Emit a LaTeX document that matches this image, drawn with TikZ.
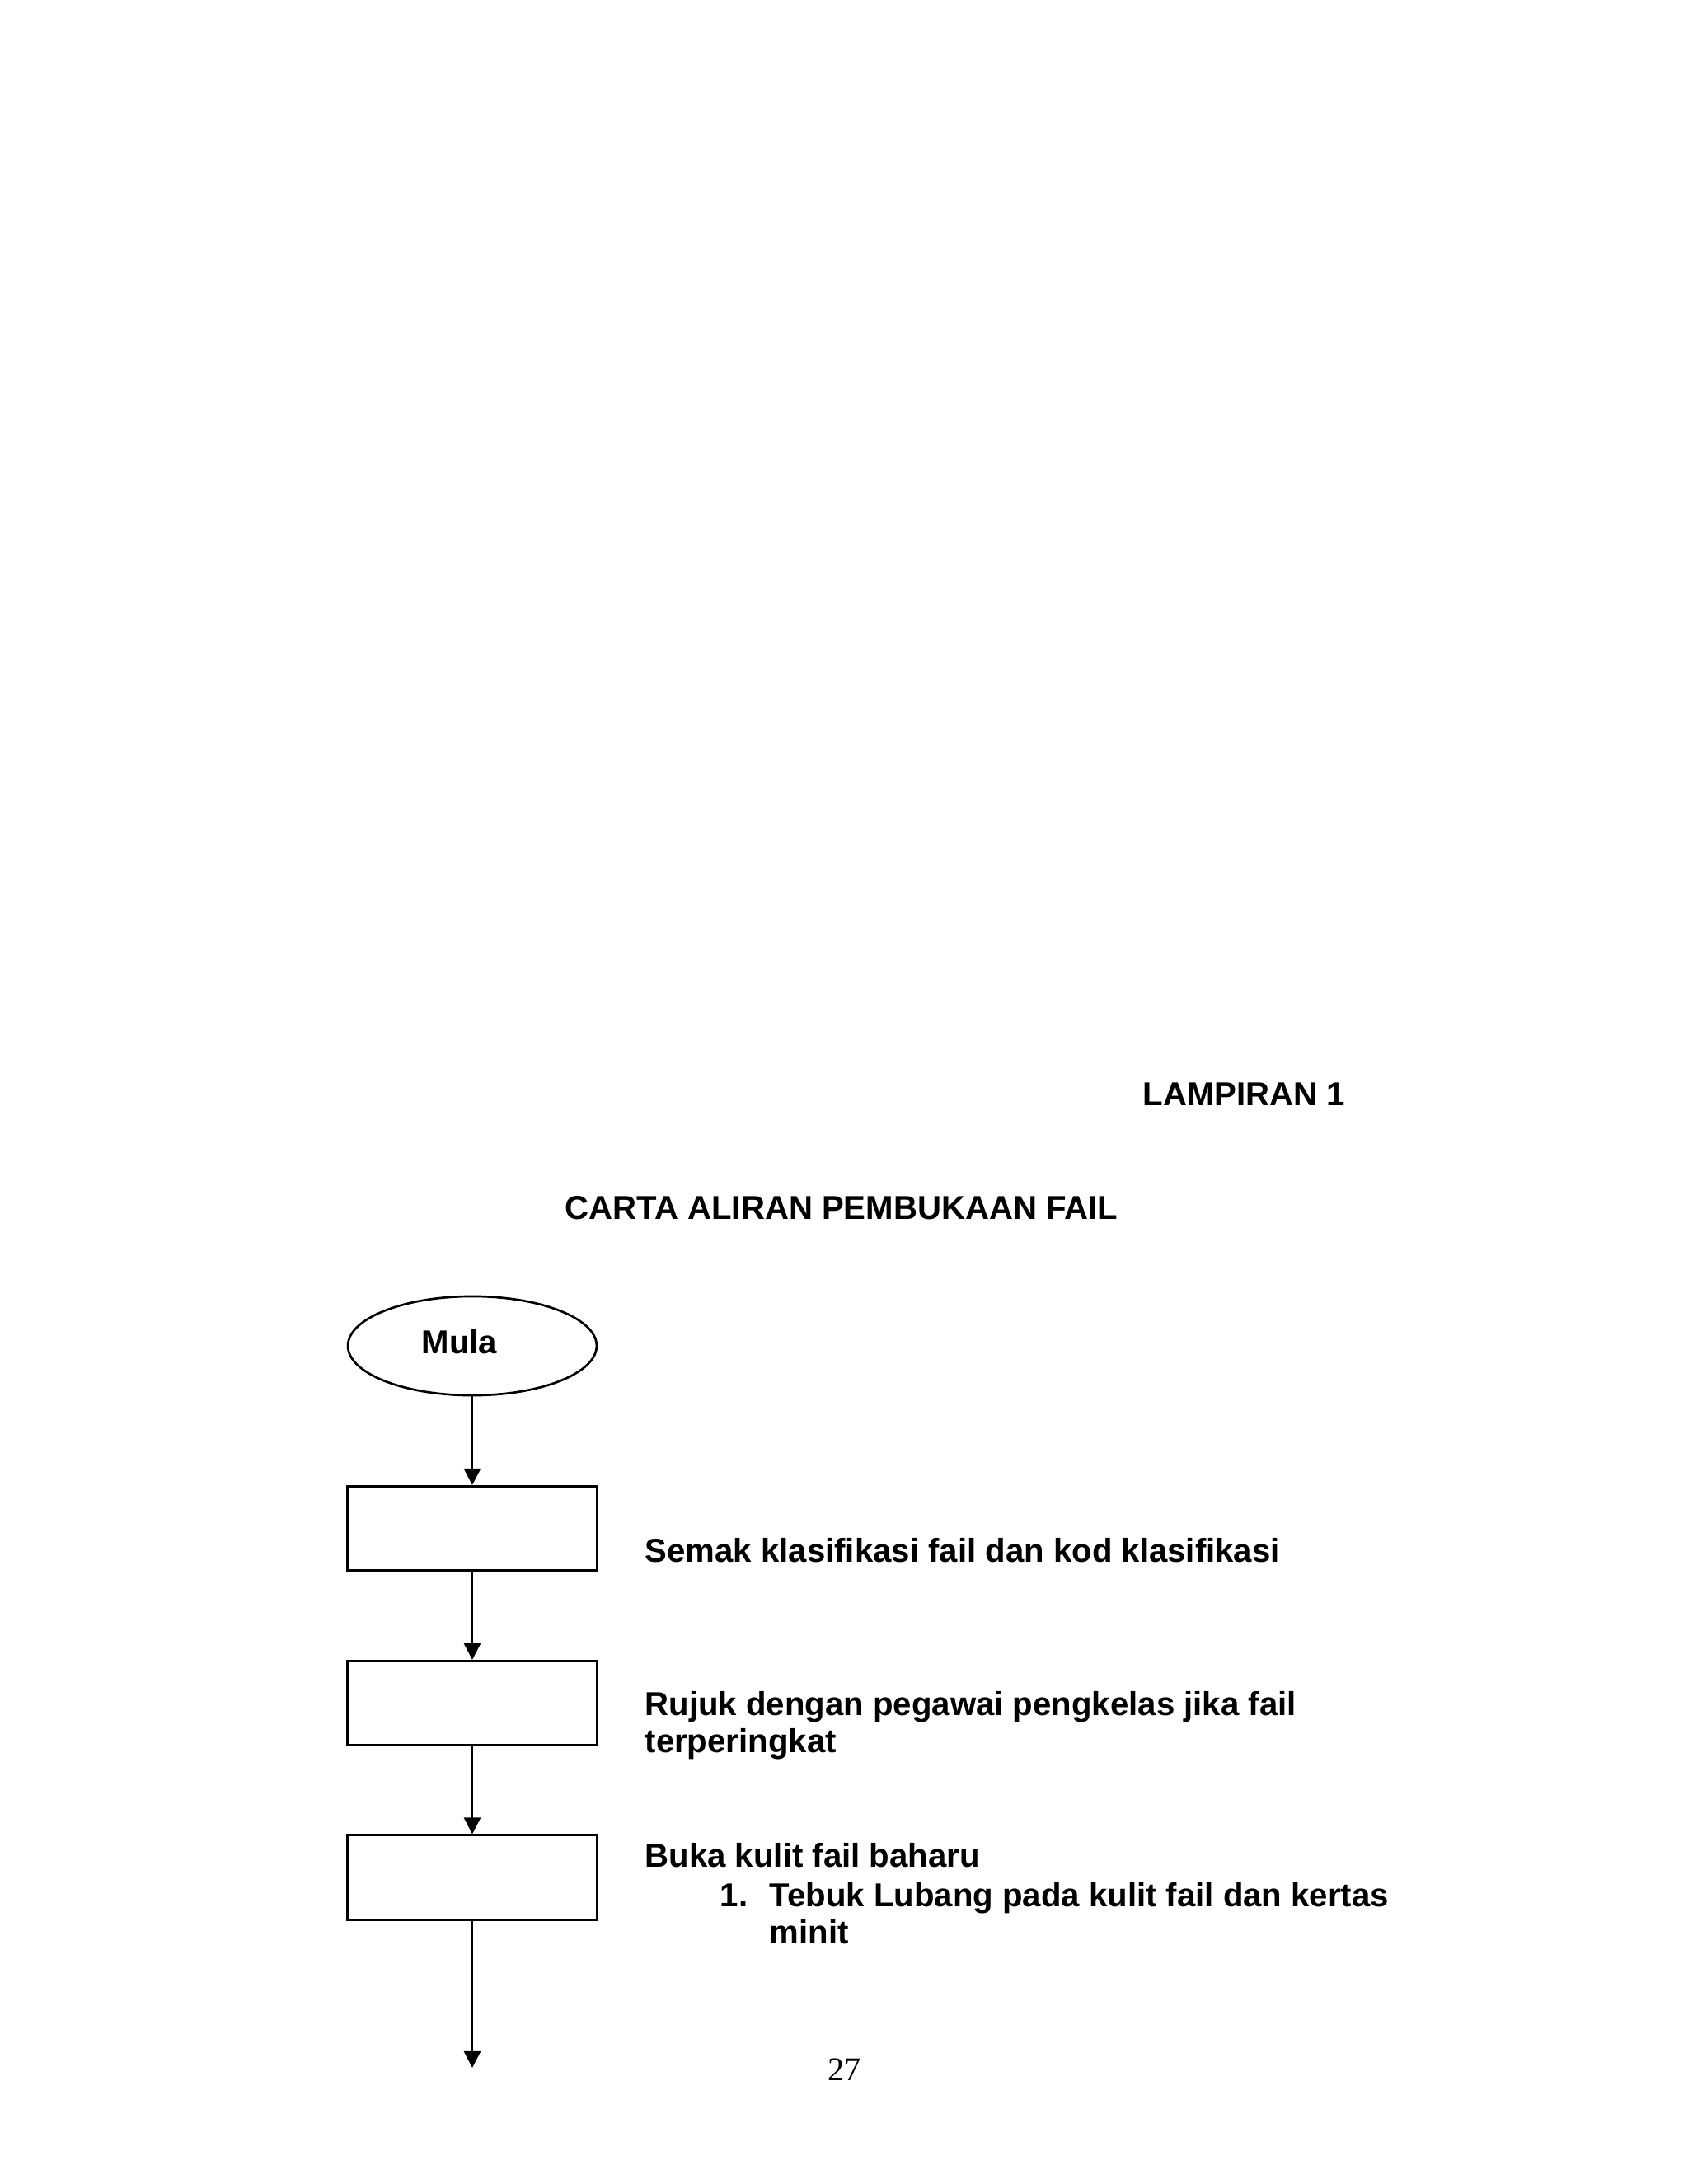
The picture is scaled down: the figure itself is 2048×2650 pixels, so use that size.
\documentclass[tikz,border=0pt]{standalone}
\usepackage{fontspec}
\setmainfont{Liberation Sans}
\newfontfamily\serifpg{Liberation Serif}
\usetikzlibrary{shapes.geometric,arrows.meta}
\begin{document}
\begin{tikzpicture}[x=0.29883pt,y=-0.29883pt,
  txt/.style={anchor=base west,inner sep=0pt,font=\fontsize{12}{13.8}\selectfont\bfseries},
  stepbox/.style={draw,line width=0.8pt,rectangle,minimum width=90.6pt,minimum height=30.6pt,inner sep=0pt},
  startshape/.style={draw,line width=0.8pt,ellipse,minimum width=90.2pt,minimum height=35.9pt,inner sep=0pt},
  flow/.style={line width=0.8pt,-{Triangle[length=6pt,width=6pt]}}]
\useasboundingbox (0,0) rectangle (2048,2650);
\node[txt] (lamp) at (1386,1341) {LAMPIRAN 1};
\node[txt] (title) at (685,1479) {CARTA ALIRAN PEMBUKAAN FAIL};
\node[startshape] (start) at (573,1633) {};
\node[txt] (mula) at (511,1642) {Mula};
\node[stepbox] (b1) at (573,1854.5) {};
\node[stepbox] (b2) at (573,2066.5) {};
\node[stepbox] (b3) at (573,2278) {};
\coordinate (end) at (573,2509);
\draw[flow] (start.south) -- (b1.north);
\draw[flow] (b1.south) -- (b2.north);
\draw[flow] (b2.south) -- (b3.north);
\draw[flow] (b3.south) -- (end);
\node[txt] (t1) at (782,1895) {Semak klasifikasi fail dan kod klasifikasi};
\node[txt] (t2a) at (782,2081) {Rujuk dengan pegawai pengkelas jika fail};
\node[txt] (t2b) at (782,2126) {terperingkat};
\node[txt] (t3a) at (782,2265) {Buka kulit fail baharu};
\node[txt] (t3n) at (873,2313) {1.};
\node[txt] (t3b) at (933,2313) {Tebuk Lubang pada kulit fail dan kertas};
\node[txt] (t3c) at (933,2358) {minit};
\node[anchor=base west,inner sep=0pt,font=\serifpg\fontsize{12}{14}\selectfont] (pg) at (1004,2524) {27};
\end{tikzpicture}
\end{document}
